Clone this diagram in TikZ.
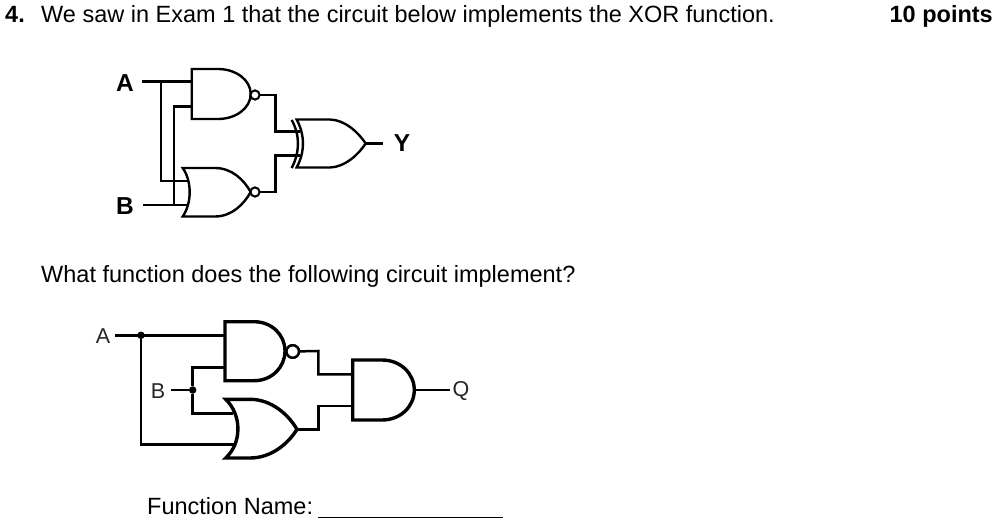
\documentclass[tikz,border=0pt]{standalone}
\usepackage{fontspec}
\setmainfont{Liberation Sans}
\tikzset{
  gatea/.style={draw=black,line width=2.4pt,line join=miter,fill=white},
  wirea/.style={draw=black,line width=2.6pt},
  gateb/.style={draw=black,line width=3.4pt,line join=miter,fill=white},
  wireb/.style={draw=black,line width=2.5pt},
  bubblea/.style={circle,draw=black,line width=1.9pt,fill=white,inner sep=0pt,minimum size=9pt},
  bubbleb/.style={circle,draw=black,line width=2.4pt,fill=white,inner sep=0pt,minimum size=12.5pt},
  dotb/.style={circle,fill=black,inner sep=0pt,minimum size=7.5pt},
  body/.style={font=\fontsize{23.5}{27}\selectfont,anchor=base west,inner sep=0pt},
  boldlab/.style={font=\fontsize{24.5}{28}\selectfont\bfseries,inner sep=0pt},
  lab/.style={font=\fontsize{21.5}{25}\selectfont,text=black!85,inner sep=0pt},
}
\begin{document}
\begin{tikzpicture}[x=1pt,y=-1pt]
\useasboundingbox (0,0) rectangle (997,525);
\fill[white] (0,0) rectangle (997,525);
% text
\node[body,font=\fontsize{23.5}{27}\selectfont\bfseries] (num) at (5,22) {4.};
\node[body] (q1) at (41,22) {We saw in Exam 1 that the circuit below implements the XOR function.};
\node[body,font=\fontsize{23.5}{27}\selectfont\bfseries,anchor=base east] (pts) at (993,22) {10 points};
\node[body] (q2) at (41,282) {What function does the following circuit implement?};
\node[body] (fn) at (147,514) {Function Name:};
\coordinate (ula) at (318,517.5);
\coordinate (ulb) at (503,517.5);
\draw[line width=1.4pt] (ula) -- (ulb);
% ---- top circuit
\node[boldlab] (A1) at (125,83) {A};
\node[boldlab] (B1) at (125,206) {B};
\node[boldlab] (Y1) at (402,143) {Y};
\coordinate (a1s) at (142,81.7);
\coordinate (a1j) at (161,81.7);
\coordinate (a1i) at (192,81.7);
\coordinate (a1c) at (161,181);
\coordinate (a1o) at (189,181);
\coordinate (b1s) at (143,205);
\coordinate (b1j) at (174,205);
\coordinate (b1o) at (188,205);
\coordinate (b1c) at (174,106.7);
\coordinate (b1i) at (192,106.7);
\coordinate (m1) at (275.7,95);
\coordinate (m2) at (275.7,131.7);
\coordinate (x1) at (300,131.7);
\coordinate (m3) at (275.7,192);
\coordinate (m4) at (275.7,155.7);
\coordinate (x2) at (300,155.7);
\coordinate (yt) at (365.7,143.5);
\coordinate (ye) at (383,143.5);
\node[bubblea] (bub1) at (255,95) {};
\node[bubblea] (bub2) at (255,192) {};
\draw[wirea] (a1s) -- (a1i);
\draw[wirea] (a1j) -- (a1c) -- (a1o);
\draw[wirea] (b1s) -- (b1o);
\draw[wirea] (b1j) -- (b1c) -- (b1i);
\draw[wirea] (bub1) -- (m1) -- (m2) -- (x1);
\draw[wirea] (bub2) -- (m3) -- (m4) -- (x2);
\draw[wirea] (yt) -- (ye);
% NAND
\draw[gatea,fill=none] (191.7,69) -- (218,69) .. controls (236,69) and (250.7,80) .. (250.7,94) .. controls (250.7,108) and (236,119) .. (218,119) -- (191.7,119) -- cycle;
% NOR
\draw[gatea,fill=none] (182.7,168) -- (215,168) .. controls (232,168) and (244,180) .. (250.7,192) .. controls (244,204) and (232,216.5) .. (215,216.5) -- (182.7,216.5) .. controls (192,203) and (192,181) .. (182.7,168) -- cycle;
% XOR
\draw[gatea,fill=white] (296.7,119.5) -- (330,119.5) .. controls (345,120) and (358,132) .. (365.7,143.5) .. controls (358,155) and (345,167) .. (330,167.5) -- (296.7,167.5) .. controls (305,152) and (305,135) .. (296.7,119.5) -- cycle;
\draw[gatea,fill=none] (291.7,120) .. controls (300,135) and (300,152) .. (291.7,168);
\node[bubblea] at (bub1) {};
\node[bubblea] at (bub2) {};
% ---- bottom circuit
\node[lab] (A2) at (103,336) {A};
\node[lab] (B2) at (158,391) {B};
\node[lab] (Q2) at (461,391.5) {Q};
\node[dotb] (ja) at (141,335.3) {};
\node[dotb] (jb) at (192.7,390) {};
\coordinate (as) at (115,335.3);
\coordinate (ai) at (225,335.3);
\coordinate (ac) at (141,444.3);
\coordinate (ao) at (234,444.3);
\coordinate (bs) at (170.7,390);
\coordinate (bu) at (192.7,367.3);
\coordinate (bui) at (225,367.3);
\coordinate (bd) at (192.7,413.7);
\coordinate (bdi) at (233,413.7);
\coordinate (n1) at (318.3,351);
\coordinate (n2) at (318.3,374.3);
\coordinate (n3) at (352.7,374.3);
\coordinate (ot) at (297,429.3);
\coordinate (o1) at (318.3,429.3);
\coordinate (o2) at (318.3,406);
\coordinate (o3) at (352.7,406);
\coordinate (qt) at (414.3,390);
\coordinate (qe) at (450,390);
\node[bubbleb] (bub3) at (292.7,351.5) {};
\draw[wireb] (as) -- (ai);
\draw[wireb] (ja) -- (ac) -- (ao);
\draw[wireb] (bs) -- (jb);
\draw[wireb] (jb) -- (bu) -- (bui);
\draw[wireb] (jb) -- (bd) -- (bdi);
\draw[wireb] (bub3) -- (n1) -- (n2) -- (n3);
\draw[wireb] (ot) -- (o1) -- (o2) -- (o3);
\draw[wireb] (qt) -- (qe);
\draw[gateb,fill=none] (225,321.7) -- (254,321.7) .. controls (272,321.7) and (285,335) .. (285,351) .. controls (285,367) and (272,380.7) .. (254,380.7) -- (225,380.7) -- cycle;
\draw[gateb,fill=none] (225.7,399.3) -- (250,399.3) .. controls (271,399.3) and (288,414) .. (297,429.3) .. controls (288,444) and (271,458) .. (250,458) -- (225.7,458) .. controls (242,443) and (242,415) .. (225.7,399.3) -- cycle;
\draw[gateb,fill=none] (352.7,360) -- (382,360) .. controls (401,360) and (414.3,374) .. (414.3,390) .. controls (414.3,406) and (401,420) .. (382,420) -- (352.7,420) -- cycle;
\node[bubbleb] at (bub3) {};
\end{tikzpicture}
\end{document}
